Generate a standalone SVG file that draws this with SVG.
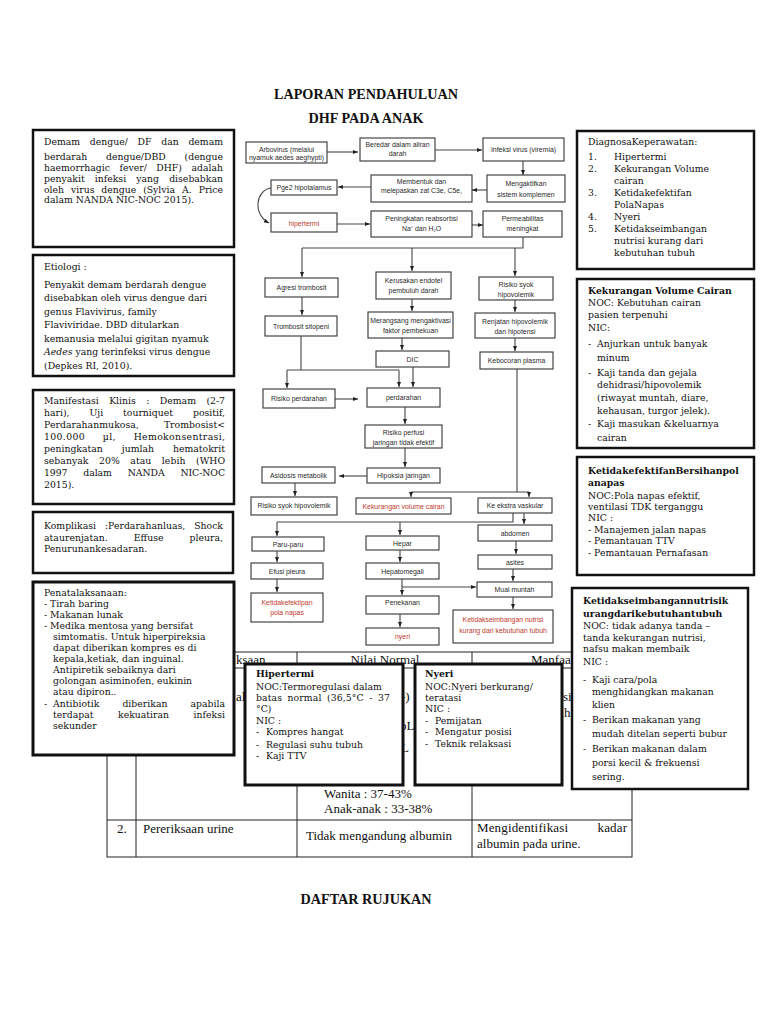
<svg xmlns="http://www.w3.org/2000/svg" width="768" height="1024" viewBox="0 0 768 1024">
<defs>
<style>
.bx{fill:#fff;stroke:#111;stroke-width:2.5}
.bx3{fill:#fff;stroke:#111;stroke-width:3}
.fb{fill:#fff;stroke:#333;stroke-width:1.1}
.ft{font-family:"Liberation Sans",Arial,sans-serif;font-size:6.9px;text-anchor:middle;fill:#2a2a2a}
.red{fill:#c0392b}
.s{font-family:"DejaVu Serif",serif;font-size:9.3px;fill:#111}
.sb{font-family:"DejaVu Serif",serif;font-size:9.3px;font-weight:bold;fill:#111}
.tt{font-family:"Liberation Serif","Times New Roman",serif;font-size:13px;fill:#111}
.ti{font-family:"Liberation Serif","Times New Roman",serif;font-size:14.2px;font-weight:bold;text-anchor:middle;fill:#111}
.tl{stroke:#222;stroke-width:1;fill:none}
.c{stroke:#444;stroke-width:1.1;fill:none}
.ca{stroke:#444;stroke-width:1.1;fill:none;marker-end:url(#ah)}
</style>
<marker id="ah" viewBox="0 0 10 10" refX="10" refY="5" markerWidth="5" markerHeight="5" markerUnits="userSpaceOnUse" orient="auto"><path d="M0,1 L10,5 L0,9 z" fill="#222"/></marker>
</defs>
<rect width="768" height="1024" fill="#fff"/>

<g id="title">
<text class="ti" x="366" y="99">LAPORAN PENDAHULUAN</text>
<text class="ti" x="366" y="123">DHF PADA ANAK</text>
</g>

<!-- underlying table -->
<g id="table">
<rect class="tl" x="107" y="652" width="525" height="205"/>
<line class="tl" x1="136" y1="652" x2="136" y2="857"/>
<line class="tl" x1="297" y1="652" x2="297" y2="857"/>
<line class="tl" x1="472" y1="652" x2="472" y2="857"/>
<line class="tl" x1="107" y1="668" x2="632" y2="668"/>
<line class="tl" x1="107" y1="820" x2="632" y2="820"/>
<text class="tt" x="236" y="664">ksaan</text>
<text class="tt" x="385" y="664" text-anchor="middle">Nilai Normal</text>
<text class="tt" x="531" y="664">Manfaa</text>
<text class="tt" x="236" y="701">al</text>
<text class="tt" x="401" y="701">-)</text>
<text class="tt" x="400" y="730">pL</text>
<text class="tt" x="401" y="752">L</text>
<text class="tt" x="563" y="701">si</text>
<text class="tt" x="564" y="717">h</text>
<text class="tt" x="324" y="798">Wanita : 37-43%</text>
<text class="tt" x="324" y="813">Anak-anak : 33-38%</text>
<text class="tt" x="117" y="833">2.</text>
<text class="tt" x="143" y="833">Pereriksaan urine</text>
<text class="tt" x="306" y="840">Tidak mengandung albumin</text>
<text class="tt" x="477" y="832" style="word-spacing:26px" textLength="150" lengthAdjust="spacing">Mengidentifikasi kadar</text>
<text class="tt" x="477" y="848">albumin pada urine.</text>
</g>

<g id="def-box">
<rect class="bx" x="33" y="130" width="201" height="117"/>
<text class="s" x="44" y="144.5" style="word-spacing:6.8px" textLength="179" lengthAdjust="spacing">Demam dengue/ DF dan demam</text>
<text class="s" x="44" y="160" style="word-spacing:16px" textLength="179" lengthAdjust="spacing">berdarah dengue/DBD (dengue</text>
<text class="s" x="44" y="171" style="word-spacing:6.6px" textLength="179" lengthAdjust="spacing">haemorrhagic fever/ DHF) adalah</text>
<text class="s" x="44" y="181.5" style="word-spacing:7.2px" textLength="179" lengthAdjust="spacing">penyakit infeksi yang disebabkan</text>
<text class="s" x="44" y="192.5" style="word-spacing:4px" textLength="179" lengthAdjust="spacing">oleh virus dengue (Sylvia A. Price</text>
<text class="s" x="44" y="203">dalam NANDA NIC-NOC 2015).</text>
</g>

<g id="etiologi-box">
<rect class="bx" x="33" y="255" width="201" height="121"/>
<text class="s" x="44" y="269.5">Etiologi :</text>
<text class="s" x="44" y="287.5">Penyakit demam berdarah dengue</text>
<text class="s" x="44" y="301">disebabkan oleh virus dengue dari</text>
<text class="s" x="44" y="314.5">genus Flavivirus, family</text>
<text class="s" x="44" y="328">Flaviviridae. DBD ditularkan</text>
<text class="s" x="44" y="341.5">kemanusia melalui gigitan nyamuk</text>
<text class="s" x="44" y="355"><tspan font-style="italic">Aedes</tspan> yang terinfeksi virus dengue</text>
<text class="s" x="44" y="368.5">(Depkes RI, 2010).</text>
</g>

<g id="manifestasi-box">
<rect class="bx" x="33" y="390" width="201" height="114"/>
<text class="s" x="44" y="403.5" style="word-spacing:7.5px" textLength="181" lengthAdjust="spacing">Manifestasi Klinis : Demam (2-7</text>
<text class="s" x="44" y="415.6" style="word-spacing:17px" textLength="181" lengthAdjust="spacing">hari), Uji tourniquet positif,</text>
<text class="s" x="44" y="427.7" style="word-spacing:22px" textLength="181" lengthAdjust="spacing">Perdarahanmukosa, Trombosist&lt;</text>
<text class="s" x="44" y="439.8" style="word-spacing:14.5px" textLength="181" lengthAdjust="spacing">100.000 µl, Hemokonsentrasi,</text>
<text class="s" x="44" y="451.9" style="word-spacing:16px" textLength="181" lengthAdjust="spacing">peningkatan jumlah hematokrit</text>
<text class="s" x="44" y="464" style="word-spacing:7.5px" textLength="181" lengthAdjust="spacing">sebanyak 20% atau lebih (WHO</text>
<text class="s" x="44" y="476.1" style="word-spacing:13px" textLength="181" lengthAdjust="spacing">1997 dalam NANDA NIC-NOC</text>
<text class="s" x="44" y="488.2">2015).</text>
</g>

<g id="komplikasi-box">
<rect class="bx" x="33" y="512" width="200" height="61"/>
<text class="s" x="44" y="528.5" style="word-spacing:6px" textLength="179" lengthAdjust="spacing">Komplikasi :Perdarahanluas, Shock</text>
<text class="s" x="44" y="540.5" style="word-spacing:23px" textLength="179" lengthAdjust="spacing">ataurenjatan. Effuse pleura,</text>
<text class="s" x="44" y="551.5">Penurunankesadaran.</text>
</g>

<g id="penatalaksanaan-box">
<rect class="bx3" x="33" y="582" width="201" height="173"/>
<text class="s" x="44" y="595.5">Penatalaksanaan:</text>
<text class="s" x="44" y="606.6">- Tirah baring</text>
<text class="s" x="44" y="617.7">- Makanan lunak</text>
<text class="s" x="44" y="628.8">- Medika mentosa yang bersifat</text>
<text class="s" x="53" y="639.9">simtomatis. Untuk hiperpireksia</text>
<text class="s" x="53" y="651">dapat diberikan kompres es di</text>
<text class="s" x="53" y="662.1">kepala,ketiak, dan inguinal.</text>
<text class="s" x="53" y="673.2">Antipiretik sebaiknya dari</text>
<text class="s" x="53" y="684.3">golongan asiminofen, eukinin</text>
<text class="s" x="53" y="695.4">atau dipiron..</text>
<text class="s" x="44" y="706.5">-</text>
<text class="s" x="53" y="706.5" style="word-spacing:20px" textLength="172" lengthAdjust="spacing">Antibiotik diberikan apabila</text>
<text class="s" x="53" y="717.6" style="word-spacing:21.5px" textLength="172" lengthAdjust="spacing">terdapat kekuatiran infeksi</text>
<text class="s" x="53" y="728.7">sekunder</text>
</g>

<g id="diagnosa-box">
<rect class="bx" x="577" y="131" width="177" height="138"/>
<text class="s" x="588" y="144.5">DiagnosaKeperawatan:</text>
<text class="s" x="588" y="159.5">1.</text><text class="s" x="614" y="159.5">Hipertermi</text>
<text class="s" x="588" y="171.5">2.</text><text class="s" x="614" y="171.5">Kekurangan Volume</text>
<text class="s" x="614" y="183.5">cairan</text>
<text class="s" x="588" y="195.5">3.</text><text class="s" x="614" y="195.5">Ketidakefektifan</text>
<text class="s" x="614" y="207.5">PolaNapas</text>
<text class="s" x="588" y="219.5">4.</text><text class="s" x="614" y="219.5">Nyeri</text>
<text class="s" x="588" y="231.5">5.</text><text class="s" x="614" y="231.5">Ketidakseimbangan</text>
<text class="s" x="614" y="243.5">nutrisi kurang dari</text>
<text class="s" x="614" y="255.5">kebutuhan tubuh</text>
</g>

<g id="kvc-box">
<rect class="bx" x="577" y="279" width="177" height="169"/>
<text class="sb" x="588" y="293.5">Kekurangan Volume Cairan</text>
<text class="s" x="588" y="305.5">NOC: Kebutuhan cairan</text>
<text class="s" x="588" y="318">pasien terpenuhi</text>
<text class="s" x="588" y="330.5">NIC:</text>
<text class="s" x="588" y="346.5">-</text><text class="s" x="597" y="346.5">Anjurkan untuk banyak</text>
<text class="s" x="597" y="360.5">minum</text>
<text class="s" x="588" y="375.5">-</text><text class="s" x="597" y="375.5">Kaji tanda dan gejala</text>
<text class="s" x="597" y="387.5">dehidrasi/hipovolemik</text>
<text class="s" x="597" y="400.5">(riwayat muntah, diare,</text>
<text class="s" x="597" y="413.5">kehausan, turgor jelek).</text>
<text class="s" x="588" y="426.5">-</text><text class="s" x="597" y="426.5">Kaji masukan &amp;keluarnya</text>
<text class="s" x="597" y="440.5">cairan</text>
</g>

<g id="kbp-box">
<rect class="bx" x="577" y="457" width="177" height="118"/>
<text class="sb" x="588" y="473.5">KetidakefektifanBersihanpol</text>
<text class="sb" x="588" y="485.5">anapas</text>
<text class="s" x="588" y="498.5">NOC:Pola napas efektif,</text>
<text class="s" x="588" y="509.5">ventilasi TDK terganggu</text>
<text class="s" x="588" y="520.5">NIC :</text>
<text class="s" x="588" y="532.5">- Manajemen jalan napas</text>
<text class="s" x="588" y="543.5">- Pemantauan TTV</text>
<text class="s" x="588" y="555.5">- Pemantauan Pernafasan</text>
</g>

<g id="hipertermi-box">
<rect class="bx3" x="245" y="664" width="158" height="121"/>
<text class="sb" x="256" y="676.5">Hipertermi</text>
<text class="s" x="256" y="689.5">NOC:Termoregulasi dalam</text>
<text class="s" x="256" y="700.5" style="word-spacing:2.5px" textLength="134" lengthAdjust="spacing">batas normal (36,5°C - 37</text>
<text class="s" x="256" y="711.5">°C)</text>
<text class="s" x="256" y="723.5">NIC :</text>
<text class="s" x="256" y="734.5">-</text><text class="s" x="266" y="734.5">Kompres hangat</text>
<text class="s" x="256" y="747.5">-</text><text class="s" x="266" y="747.5">Regulasi suhu tubuh</text>
<text class="s" x="256" y="758.5">-</text><text class="s" x="266" y="758.5">Kaji TTV</text>
</g>

<g id="nyeri-box">
<rect class="bx3" x="415" y="664" width="147" height="121"/>
<text class="sb" x="425" y="676.5">Nyeri</text>
<text class="s" x="425" y="689.5">NOC:Nyeri berkurang/</text>
<text class="s" x="425" y="700.5">teratasi</text>
<text class="s" x="425" y="711.5">NIC :</text>
<text class="s" x="425" y="723.5">-</text><text class="s" x="435" y="723.5">Pemijatan</text>
<text class="s" x="425" y="734.5">-</text><text class="s" x="435" y="734.5">Mengatur posisi</text>
<text class="s" x="425" y="746.5">-</text><text class="s" x="435" y="746.5">Teknik relaksasi</text>
</g>

<g id="nutrisi-box">
<rect class="bx" x="572" y="588" width="176" height="201"/>
<text class="sb" x="583" y="603.5">Ketidakseimbangannutrisik</text>
<text class="sb" x="583" y="616.5">urangdarikebutuhantubuh</text>
<text class="s" x="583" y="628.5">NOC: tidak adanya tanda –</text>
<text class="s" x="583" y="640.5">tanda kekurangan nutrisi,</text>
<text class="s" x="583" y="651.5">nafsu makan membaik</text>
<text class="s" x="583" y="664.5">NIC :</text>
<text class="s" x="583" y="682.5">-</text><text class="s" x="592" y="682.5">Kaji cara/pola</text>
<text class="s" x="592" y="694.5">menghidangkan makanan</text>
<text class="s" x="592" y="707.5">klien</text>
<text class="s" x="583" y="722.5">-</text><text class="s" x="592" y="722.5">Berikan  makanan yang</text>
<text class="s" x="592" y="736.5">mudah ditelan seperti bubur</text>
<text class="s" x="583" y="751.5">-</text><text class="s" x="592" y="751.5">Berikan makanan dalam</text>
<text class="s" x="592" y="765.5">porsi kecil &amp; frekuensi</text>
<text class="s" x="592" y="779.5">sering.</text>
</g>

<!-- flowchart nodes -->
<g id="n-arbovirus"><rect class="fb" x="246" y="142" width="81" height="21"/><text class="ft" x="286.5" y="151.5">Arbovirus (melalui</text><text class="ft" x="286.5" y="160">nyamuk aedes aeghypti)</text></g>
<g id="n-beredar"><rect class="fb" x="360" y="138" width="75" height="23"/><text class="ft" x="397.5" y="147">Beredar dalam aliran</text><text class="ft" x="397.5" y="156">darah</text></g>
<g id="n-infeksi"><rect class="fb" x="483" y="138" width="81" height="23"/><text class="ft" x="523.5" y="152">Infeksi virus (viremia)</text></g>
<g id="n-mengaktifkan"><rect class="fb" x="487" y="175" width="78" height="27"/><text class="ft" x="526" y="185.5">Mengaktifkan</text><text class="ft" x="526" y="197">sistem komplemen</text></g>
<g id="n-membentuk"><rect class="fb" x="371" y="175" width="101" height="27"/><text class="ft" x="421.5" y="184">Membentuk dan</text><text class="ft" x="421.5" y="193">melepaskan  zat C3e, C5e,</text></g>
<g id="n-pge2"><rect class="fb" x="271" y="180" width="66" height="15"/><text class="ft" x="304" y="190">Pge2 hipotalamus</text></g>
<g id="n-hipertermi"><rect class="fb" x="271" y="213" width="66" height="19"/><text class="ft red" x="304" y="225.5" font-size="7.6">hipertermi</text></g>
<g id="n-peningkatan"><rect class="fb" x="371" y="211" width="101" height="26"/><text class="ft" x="421.5" y="220.5">Peningkatan reabsorbsi</text><text class="ft" x="421.5" y="230.5">Na<tspan font-size="4" dy="-2.5">+</tspan><tspan dy="2.5"> dan H</tspan><tspan font-size="4" dy="1.5">2</tspan><tspan dy="-1.5">O</tspan></text></g>
<g id="n-permeabilitas"><rect class="fb" x="483" y="211" width="79" height="26"/><text class="ft" x="522.5" y="221">Permeabilitas</text><text class="ft" x="522.5" y="231">meningkat</text></g>
<g id="n-agresi"><rect class="fb" x="265" y="278" width="73" height="19"/><text class="ft" x="301.5" y="290">Agresi trombosit</text></g>
<g id="n-kerusakan"><rect class="fb" x="376" y="272" width="75" height="27"/><text class="ft" x="413.5" y="282.5">Kerusakan endotel</text><text class="ft" x="413.5" y="292.5">pembuluh darah</text></g>
<g id="n-risikosyok1"><rect class="fb" x="479" y="277" width="74" height="23"/><text class="ft" x="516" y="286.5">Risiko syok</text><text class="ft" x="516" y="296.5">hipovolemik</text></g>
<g id="n-trombosit"><rect class="fb" x="265" y="316" width="72" height="20"/><text class="ft" x="301" y="328.5">Trombosit sitopeni</text></g>
<g id="n-merangsang"><rect class="fb" x="368" y="312" width="85" height="26"/><text class="ft" x="410.5" y="322.5">Merangsang mengaktivasi</text><text class="ft" x="410.5" y="332.5">faktor pembekuan</text></g>
<g id="n-renjatan"><rect class="fb" x="475" y="313" width="80" height="25"/><text class="ft" x="515" y="324">Renjatan hipovolemik</text><text class="ft" x="515" y="334">dan hipotensi</text></g>
<g id="n-dic"><rect class="fb" x="376" y="351" width="73" height="16"/><text class="ft" x="412.5" y="361.5">DIC</text></g>
<g id="n-kebocoran"><rect class="fb" x="480" y="352" width="73" height="17"/><text class="ft" x="516.5" y="363">Kebocoran plasma</text></g>
<g id="n-risikoperdarahan"><rect class="fb" x="263" y="389" width="72" height="19"/><text class="ft" x="299" y="400.5">Risiko perdarahan</text></g>
<g id="n-perdarahan"><rect class="fb" x="367" y="388" width="73" height="19"/><text class="ft" x="403.5" y="400">perdarahan</text></g>
<g id="n-perfusi"><rect class="fb" x="365" y="425" width="77" height="23"/><text class="ft" x="403.5" y="435">Risiko perfusi</text><text class="ft" x="403.5" y="445">jaringan tidak efektif</text></g>
<g id="n-hipoksia"><rect class="fb" x="367" y="468" width="73" height="15"/><text class="ft" x="403.5" y="478">Hipoksia jaringan</text></g>
<g id="n-asidosis"><rect class="fb" x="262" y="467" width="73" height="16"/><text class="ft" x="298.5" y="477.5">Asidosis metabolik</text></g>
<g id="n-risikosyok2"><rect class="fb" x="251" y="497" width="86" height="18"/><text class="ft" x="294" y="507.5">Risiko syok hipovolemik</text></g>
<g id="n-kvc"><rect class="fb" x="356" y="498" width="95" height="16"/><text class="ft red" x="403.5" y="508.5">Kekurangan volume cairan</text></g>
<g id="n-ekstra"><rect class="fb" x="478" y="498" width="74" height="15"/><text class="ft" x="515" y="508">Ke ekstra vaskular</text></g>
<g id="n-paru"><rect class="fb" x="252" y="537" width="72" height="14"/><text class="ft" x="288" y="546.5">Paru-paru</text></g>
<g id="n-hepar"><rect class="fb" x="366" y="536" width="73" height="14"/><text class="ft" x="402.5" y="545.5">Hepar</text></g>
<g id="n-abdomen"><rect class="fb" x="478" y="525" width="74" height="16"/><text class="ft" x="515" y="535.5">abdomen</text></g>
<g id="n-efusi"><rect class="fb" x="251" y="563" width="72" height="16"/><text class="ft" x="287" y="573.5">Efusi pleura</text></g>
<g id="n-hepatomegali"><rect class="fb" x="366" y="563" width="73" height="16"/><text class="ft" x="402.5" y="573.5">Hepatomegali</text></g>
<g id="n-asites"><rect class="fb" x="478" y="555" width="74" height="14"/><text class="ft" x="515" y="564.5">asites</text></g>
<g id="n-mual"><rect class="fb" x="477" y="582" width="75" height="15"/><text class="ft" x="514.5" y="592">Mual muntah</text></g>
<g id="n-penekanan"><rect class="fb" x="366" y="596" width="73" height="18"/><text class="ft" x="402.5" y="605">Penekanan</text></g>
<g id="n-nyeri"><rect class="fb" x="366" y="628" width="73" height="17"/><text class="ft red" x="402.5" y="638.5">nyeri</text></g>
<g id="n-polanapas"><rect class="fb" x="251" y="593" width="72" height="29"/><text class="ft red" x="287" y="604.5">Ketidakefektipan</text><text class="ft red" x="287" y="614.5">pola napas</text></g>
<g id="n-nutrisi"><rect class="fb" x="453" y="610" width="100" height="33"/><text class="ft red" x="503" y="621.5">Ketidakseimbangan nutrisi</text><text class="ft red" x="503" y="632.5">kurang dari kebutuhan tubuh</text></g>

<g id="connectors">
<line class="ca" x1="327" y1="152" x2="358" y2="152"/>
<line class="ca" x1="435" y1="150" x2="482" y2="150"/>
<line class="ca" x1="523" y1="161" x2="523" y2="175"/>
<line class="ca" x1="487" y1="190" x2="472" y2="190"/>
<line class="ca" x1="371" y1="187" x2="338" y2="187"/>
<path class="ca" d="M271,188 C256,190 252,214 269,223"/>
<line class="ca" x1="337" y1="224" x2="370" y2="224"/>
<line class="ca" x1="472" y1="225" x2="483" y2="225"/>
<polyline class="c" points="523,237 523,248 302,248"/>
<line class="ca" x1="302" y1="248" x2="302" y2="277"/>
<line class="ca" x1="412" y1="248" x2="412" y2="271"/>
<line class="ca" x1="515" y1="248" x2="515" y2="276"/>
<line class="ca" x1="302" y1="297" x2="302" y2="315"/>
<line class="ca" x1="412" y1="299" x2="412" y2="311"/>
<line class="ca" x1="515" y1="300" x2="515" y2="312"/>
<polyline class="c" points="301,336 301,370"/>
<line class="c" x1="287" y1="370" x2="399" y2="370"/>
<line class="ca" x1="287" y1="370" x2="287" y2="388"/>
<line class="ca" x1="399" y1="370" x2="399" y2="387"/>
<line class="ca" x1="402" y1="338" x2="402" y2="350"/>
<line class="ca" x1="413" y1="367" x2="413" y2="387"/>
<line class="ca" x1="515" y1="338" x2="515" y2="351"/>
<line class="ca" x1="335" y1="399" x2="358" y2="399"/>
<line class="ca" x1="405" y1="407" x2="405" y2="424"/>
<line class="ca" x1="405" y1="448" x2="405" y2="467"/>
<line class="ca" x1="367" y1="476" x2="339" y2="476"/>
<line class="ca" x1="295" y1="483" x2="295" y2="496"/>
<polyline class="c" points="517,369 517,492"/>
<line class="c" x1="411" y1="492" x2="529" y2="492"/>
<line class="ca" x1="411" y1="492" x2="411" y2="497"/>
<line class="ca" x1="529" y1="492" x2="529" y2="497"/>
<polyline class="c" points="513,513 513,522 277,522"/>
<line class="ca" x1="277" y1="522" x2="277" y2="536"/>
<line class="ca" x1="400" y1="522" x2="400" y2="535"/>
<line class="ca" x1="524" y1="513" x2="524" y2="524"/>
<line class="ca" x1="277" y1="551" x2="277" y2="562"/>
<line class="ca" x1="400" y1="550" x2="400" y2="562"/>
<line class="ca" x1="516" y1="541" x2="516" y2="554"/>
<line class="ca" x1="513" y1="569" x2="513" y2="581"/>
<polyline class="c" points="402,579 402,587"/>
<line class="ca" x1="402" y1="587" x2="476" y2="587"/>
<line class="ca" x1="402" y1="587" x2="402" y2="595"/>
<line class="ca" x1="400" y1="614" x2="400" y2="627"/>
<line class="ca" x1="277" y1="579" x2="277" y2="592"/>
<line class="ca" x1="513" y1="597" x2="513" y2="609"/>
</g>

<g id="footer">
<text class="ti" x="366" y="904">DAFTAR RUJUKAN</text>
</g>
</svg>
